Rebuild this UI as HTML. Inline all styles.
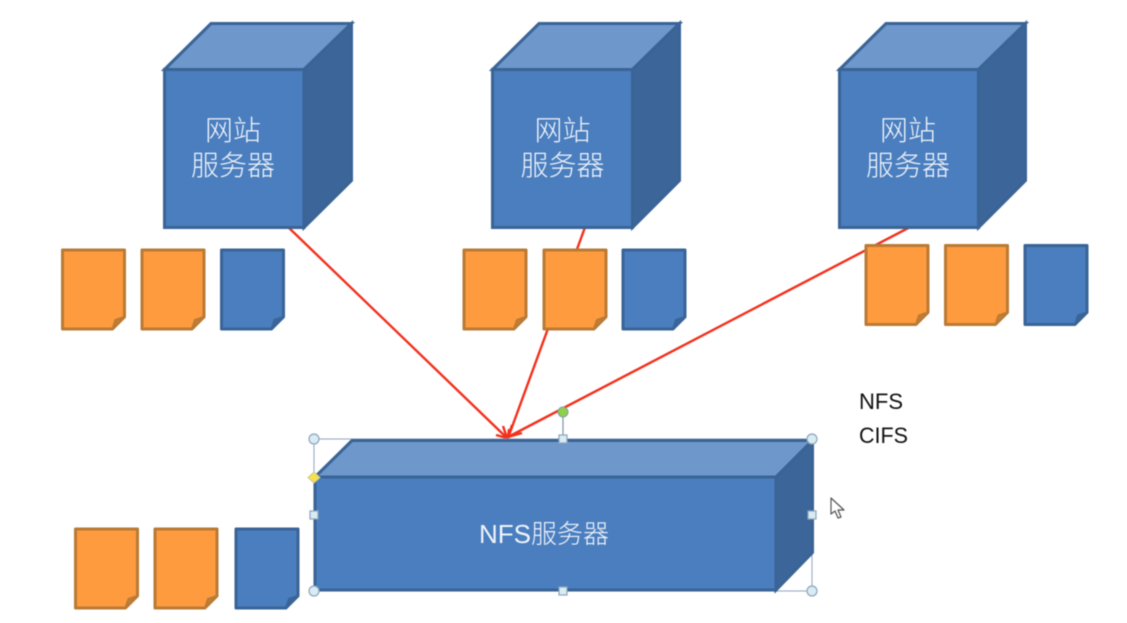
<!DOCTYPE html>
<html><head><meta charset="utf-8"><style>
html,body{margin:0;padding:0;background:#fff;width:1127px;height:623px;overflow:hidden}
svg{display:block;filter:blur(.5px)}
text{font-family:"Liberation Sans","Noto Sans CJK SC",sans-serif}
.cn{fill:#f0f4fa;font-size:28px;text-anchor:middle;font-weight:300}
</style></head><body>
<svg width="1127" height="623" viewBox="0 0 1127 623" xmlns="http://www.w3.org/2000/svg">
<rect width="1127" height="623" fill="#fff"/>
<!-- connectors -->
<g stroke="#f2301c" stroke-width="2.4" fill="none">
<line x1="287" y1="226" x2="507" y2="438"/>
<line x1="585.500" y1="226" x2="508" y2="438"/>
<line x1="914" y1="225" x2="508" y2="437"/>
<path d="M496 435L507 438L503 426M504 437L508 438L512 425M509 429L508 437L522 433"/>
</g>
<!-- cubes -->
<g stroke="#3a6496" stroke-width="3" stroke-linejoin="miter">
<path d="M164.500 69.500L211 23.500H351.500L304 69.500Z" fill="#6e98cb"/>
<path d="M304 69.500L351.500 23.500V180.500L304 227.500Z" fill="#3c6699"/>
<rect x="164.500" y="69.500" width="139.500" height="158" fill="#4a7ebf"/>
<path d="M492.500 69.500L539 23.500H679.500L632.500 69.500Z" fill="#6e98cb"/>
<path d="M632.500 69.500L679.500 23.500V180.500L632.500 227.500Z" fill="#3c6699"/>
<rect x="492.500" y="69.500" width="140" height="158" fill="#4a7ebf"/>
<path d="M839.500 69.500L886 23.500H1025.500L978.500 69.500Z" fill="#6e98cb"/>
<path d="M978.500 69.500L1025.500 23.500V180.500L978.500 227.500Z" fill="#3c6699"/>
<rect x="839.500" y="69.500" width="139" height="158" fill="#4a7ebf"/>
</g>
<!-- selection frame -->
<g fill="none" stroke="#9fb2c8" stroke-width="1.2">
<rect x="314" y="439" width="498" height="152"/>
<line x1="563" y1="412" x2="563" y2="439" stroke="#7f93aa"/>
</g>
<g stroke="#3a6496" stroke-width="3">
<path d="M315 477L352 440.500H812.500L776 477Z" fill="#6e98cb"/>
<path d="M776 477L812.500 440.500V552.500L776 590Z" fill="#3c6699"/>
<rect x="315" y="477" width="461" height="113" fill="#4a7ebf"/>
</g>
<!-- handles -->
<g fill="#d8ecf4" stroke="#8fa5bb" stroke-width="1.200">
<circle cx="314" cy="439" r="5"/><circle cx="812" cy="439" r="5"/>
<circle cx="314" cy="591" r="5"/><circle cx="812" cy="591" r="5"/>
<rect x="559" y="435" width="8" height="8"/><rect x="559" y="587" width="8" height="8"/>
<rect x="310" y="511" width="8" height="8"/><rect x="808" y="511" width="8" height="8"/>
</g>
<circle cx="563" cy="412" r="5" fill="#8fcf4a" stroke="#7f9fa0"/>
<path d="M314 472L320 477.500L314 483L308 477.500Z" fill="#f7e04e" stroke="#c8c890"/>
<!-- documents -->
<defs>
<g id="o"><path d="M1.500 1.500H63.500V68.500L51.500 80.500H1.500Z" fill="#fe9b3e" stroke="#b97a35" stroke-width="3" stroke-linejoin="round"/><path d="M51.500 80.500L54.500 71.500L63.500 68.500Z" fill="#c77f35" stroke="#b97a35" stroke-width="2" stroke-linejoin="round"/></g>
<g id="b"><path d="M1.500 1.500H63.500V68.500L51.500 80.500H1.500Z" fill="#4a7ebf" stroke="#3a6496" stroke-width="3" stroke-linejoin="round"/><path d="M51.500 80.500L54.500 71.500L63.500 68.500Z" fill="#3c6699" stroke="#3a6496" stroke-width="2" stroke-linejoin="round"/></g>
</defs>
<use href="#o" x="61" y="248.500"/><use href="#o" x="140.500" y="248.500"/><use href="#b" x="220" y="248.500"/>
<use href="#o" x="462.500" y="248.500"/><use href="#o" x="542.500" y="248.500"/><use href="#b" x="621.500" y="248.500"/>
<use href="#o" x="864.500" y="244"/><use href="#o" x="944" y="244"/><use href="#b" x="1023.500" y="244"/>
<use href="#o" x="74" y="527.500"/><use href="#o" x="153.500" y="527.500"/><use href="#b" x="234.500" y="527.500"/>
<!-- labels -->
<text class="cn" x="233" y="140">网站</text><text class="cn" x="233" y="175">服务器</text>
<text class="cn" x="562.500" y="140">网站</text><text class="cn" x="562.500" y="175">服务器</text>
<text class="cn" x="908" y="140">网站</text><text class="cn" x="908" y="175">服务器</text>
<text class="cn" x="544" y="543" style="font-size:26px">NFS服务器</text>
<text x="859" y="409" font-size="22.500" fill="#111" textLength="44" lengthAdjust="spacingAndGlyphs">NFS</text>
<text x="859" y="443" font-size="22.500" fill="#111" textLength="49" lengthAdjust="spacingAndGlyphs">CIFS</text>
<!-- cursor -->
<path d="M831 498V514L835 511L838 518L841 517L838 510L844 510Z" fill="#fff" stroke="#555" stroke-width="1.2" stroke-linejoin="round"/>
</svg>
</body></html>
